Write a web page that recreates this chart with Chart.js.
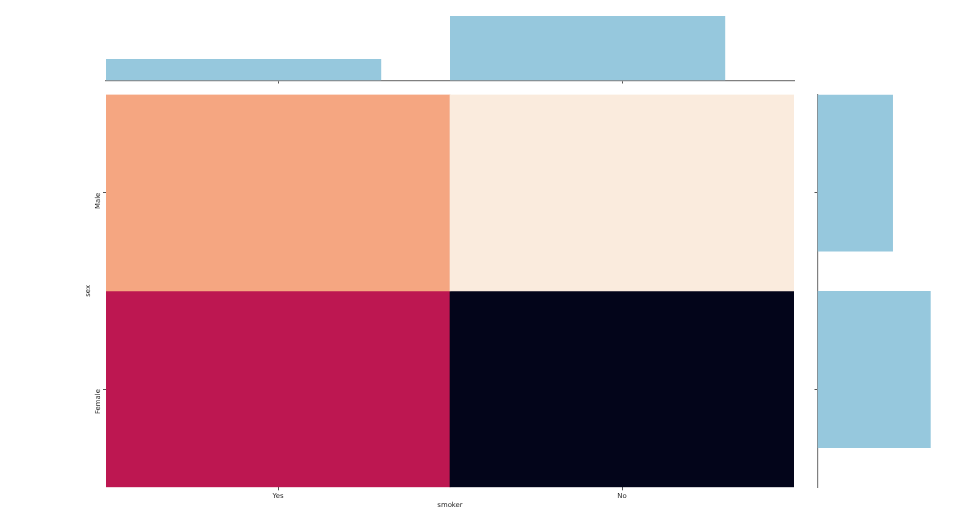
<!DOCTYPE html>
<html><head><meta charset="utf-8">
<script src="https://cdn.jsdelivr.net/npm/chart.js@4"></script>
<style>
html,body{margin:0;padding:0;background:#fff;}
#wrap{position:relative;width:960px;height:521px;overflow:hidden;}
#wrap canvas{position:absolute;left:0;top:0;}
</style></head><body>
<div id="wrap">
<canvas id="heat" width="960" height="521"></canvas>
<canvas id="topm" width="960" height="521"></canvas>
<canvas id="rightm" width="960" height="521"></canvas>
</div>
<script>
// ---- data ----
const smokerCats = ['Yes', 'No'];
const sexCats = ['Male', 'Female'];
const heatMale = [0.88, 1.00];
const heatFemale = [0.47, 0.00];
const smokerTotals = [1, 3];
const sexTotals = [2, 3];
const xAxisTitle = 'smoker';
const yAxisTitle = 'sex';

// ---- style ----
const FONT = { family: '"DejaVu Sans", sans-serif', size: 6.9 };
const TEXT = '#262626';
const TICK = '#555555';
const SPINE = '#808080';
const BAR = '#96c8dd';
const BAR_FRAC = 0.8;
const ROCKET = [
  [0.000, '#03051a'], [0.083, '#35193e'], [0.250, '#701f57'], [0.417, '#ad1759'],
  [0.470, '#bd1751'], [0.583, '#e13342'], [0.750, '#f37651'], [0.917, '#f6b48f'], [1.000, '#faebdd']
];
function hex2rgb(h) { return [1, 3, 5].map(i => parseInt(h.substr(i, 2), 16)); }
function rocket(t) {
  t = Math.max(0, Math.min(1, t));
  for (let i = 1; i < ROCKET.length; i++) {
    if (t <= ROCKET[i][0]) {
      const [t0, c0] = ROCKET[i - 1], [t1, c1] = ROCKET[i];
      const f = (t - t0) / (t1 - t0), a = hex2rgb(c0), b = hex2rgb(c1);
      return 'rgb(' + a.map((v, k) => Math.round(v + (b[k] - v) * f)).join(',') + ')';
    }
  }
  return ROCKET[ROCKET.length - 1][1];
}

Chart.defaults.font.family = FONT.family;
Chart.defaults.font.size = FONT.size;
Chart.defaults.color = TEXT;

const noPlugins = { legend: { display: false }, tooltip: { enabled: false } };

// ---- heatmap ----
const heatRows = [heatMale, heatFemale];
const allHeat = heatRows.flat();
const vmin = Math.min(...allHeat), vmax = Math.max(...allHeat);
const nRows = sexCats.length;

new Chart(document.getElementById('heat'), {
  type: 'bar',
  data: {
    labels: smokerCats,
    datasets: heatRows.map((row, i) => ({
      label: sexCats[i],
      data: row.map(() => [nRows - 1 - i, nRows - i]),
      backgroundColor: row.map(v => rocket((v - vmin) / (vmax - vmin))),
      borderWidth: 0,
      categoryPercentage: 1,
      barPercentage: 1,
      grouped: false
    }))
  },
  options: {
    responsive: false, animation: false,
    layout: { padding: { left: 83.86, right: 166, top: 94.5, bottom: 11.86 } },
    plugins: noPlugins,
    scales: {
      x: {
        type: 'category', offset: true,
        grid: { display: true, drawOnChartArea: false, drawTicks: true, tickLength: 3, offset: false, color: TICK },
        border: { display: false },
        ticks: { padding: 2, color: TEXT },
        title: { display: true, text: xAxisTitle, padding: 0, color: TEXT },
        afterFit: s => { s.height = 21.84; }
      },
      y: {
        type: 'linear', min: 0, max: nRows,
        afterBuildTicks: s => { s.ticks = sexCats.map((c, i) => ({ value: i + 0.5 })); },
        ticks: {
          callback: v => sexCats[nRows - 1 - Math.floor(v)],
          minRotation: 90, maxRotation: 90, crossAlign: 'near', padding: 5, color: TEXT
        },
        grid: { display: true, drawOnChartArea: false, drawTicks: true, tickLength: 3, color: TICK },
        border: { display: false },
        title: { display: true, text: yAxisTitle, padding: 0, color: TEXT },
        afterFit: s => { s.width = 22.14; }
      }
    }
  }
});

// ---- top marginal (smoker) ----
new Chart(document.getElementById('topm'), {
  type: 'bar',
  data: {
    datasets: [{
      data: smokerTotals.map((v, i) => ({ x: i + BAR_FRAC / 2, y: v })),
      backgroundColor: BAR, borderWidth: 0,
      categoryPercentage: 1, barPercentage: BAR_FRAC
    }]
  },
  options: {
    responsive: false, animation: false,
    layout: { padding: { left: 106, right: 166, top: 12.8, bottom: 436.5 } },
    plugins: noPlugins,
    scales: {
      x: {
        type: 'linear', min: 0, max: smokerCats.length, offset: false,
        afterBuildTicks: s => { s.ticks = smokerCats.map((c, i) => ({ value: i + 0.5 })); },
        ticks: { display: false },
        grid: { display: true, drawOnChartArea: false, drawTicks: true, tickLength: 3, offset: false, color: TICK },
        border: { display: true, color: SPINE, width: 1.2 },
        afterFit: s => { s.height = 4; }
      },
      y: { type: 'linear', min: 0, max: Math.max(...smokerTotals) * 1.05, display: false }
    }
  }
});

// ---- right marginal (sex) ----
new Chart(document.getElementById('rightm'), {
  type: 'bar',
  data: {
    datasets: [{
      data: sexTotals.map((v, i) => ({ y: i + BAR_FRAC / 2, x: v })),
      backgroundColor: BAR, borderWidth: 0,
      categoryPercentage: 1, barPercentage: BAR_FRAC
    }]
  },
  options: {
    indexAxis: 'y',
    responsive: false, animation: false,
    layout: { padding: { left: 813.5, right: 23.64, top: 94.5, bottom: 33.7 } },
    plugins: noPlugins,
    scales: {
      y: {
        type: 'linear', min: 0, max: sexCats.length, reverse: true, offset: false,
        afterBuildTicks: s => { s.ticks = sexCats.map((c, i) => ({ value: i + 0.5 })); },
        ticks: { display: false },
        grid: { display: true, drawOnChartArea: false, drawTicks: true, tickLength: 3, offset: false, color: TICK },
        border: { display: true, color: SPINE, width: 1.2 },
        afterFit: s => { s.width = 4; }
      },
      x: { type: 'linear', min: 0, max: Math.max(...sexTotals) * 1.05, display: false }
    }
  }
});
</script>
</body></html>
